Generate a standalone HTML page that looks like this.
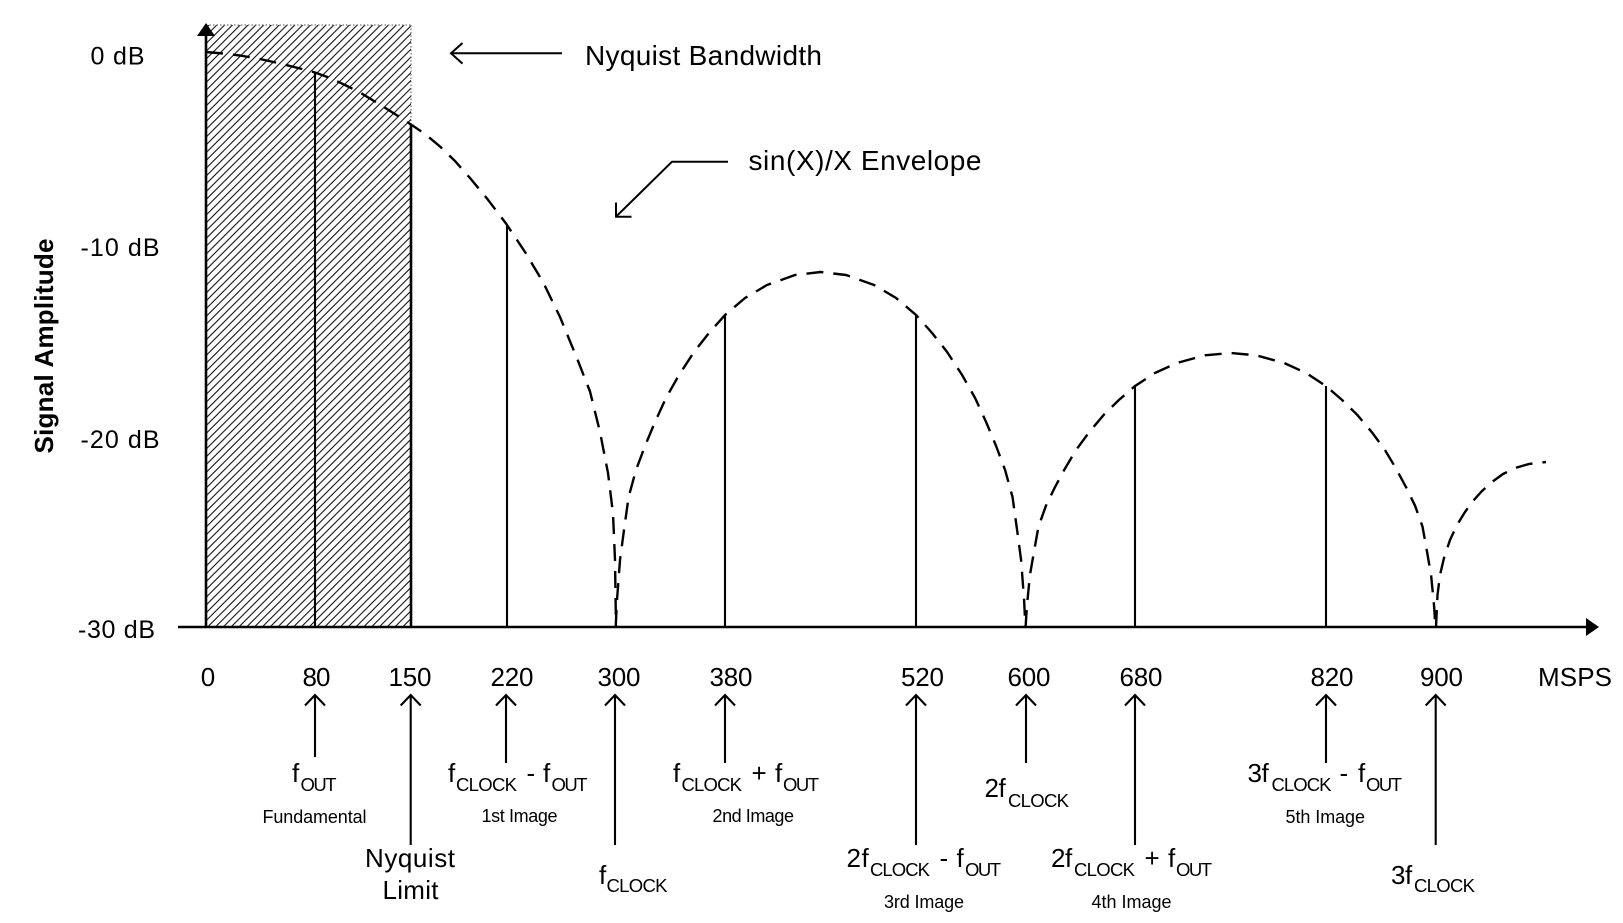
<!DOCTYPE html>
<html>
<head>
<meta charset="utf-8">
<style>
  html,body{margin:0;padding:0;background:#fff;}
  svg{display:block;}
  text{font-family:"Liberation Sans", Arial, sans-serif; fill:#000;}
</style>
</head>
<body>
<svg width="1623" height="923" viewBox="0 0 1623 923" xmlns="http://www.w3.org/2000/svg">
  <defs>
    <pattern id="hatch" width="7.8" height="7.8" patternUnits="userSpaceOnUse">
      <path d="M0,7.8 L7.8,0 M-1,1 L1,-1 M6.8,8.8 L8.8,6.8" stroke="#000" stroke-width="1.0"/>
    </pattern>
  </defs>
  <rect x="0" y="0" width="1623" height="923" fill="#fff"/>

  <!-- Nyquist hatched region -->
  <rect x="206" y="25" width="205" height="602" fill="url(#hatch)"/>
  <line x1="206" y1="25" x2="411" y2="25" stroke="#555" stroke-width="1" stroke-dasharray="1.5 2"/>
  <line x1="411" y1="25" x2="411" y2="125" stroke="#555" stroke-width="1" stroke-dasharray="1.5 2"/>

  <!-- axes -->
  <line x1="206" y1="627" x2="206" y2="33" stroke="#000" stroke-width="2.6"/>
  <polygon points="206,23 197,36 215,36" fill="#000"/>
  <line x1="178" y1="627" x2="1588" y2="627" stroke="#000" stroke-width="2.6"/>
  <polygon points="1599,627 1586,618 1586,636" fill="#000"/>

  <!-- signal lines -->
  <g stroke="#000" stroke-width="2.1">
    <line x1="315" y1="627" x2="315" y2="72.5"/>
    <line x1="411" y1="627" x2="411" y2="124.5" stroke-width="2.6"/>
    <line x1="507" y1="627" x2="507" y2="224.5"/>
    <line x1="725" y1="627" x2="725" y2="315"/>
    <line x1="916" y1="627" x2="916" y2="315"/>
    <line x1="1135" y1="627" x2="1135" y2="386"/>
    <line x1="1326" y1="627" x2="1326" y2="386"/>
  </g>

  <!-- sin(x)/x envelope -->
  <g fill="none" stroke="#000" stroke-width="2.4" stroke-dasharray="17 10" stroke-linejoin="round">
    <polyline points="206,52 223,53.5 240,55.5 260,59 280,63.5 300,68.5 315,72.5 330,78 345,85 360,92.5 383,106.5 398,116 411,124.5 425,134 440,146.5 455,161 470,178 487,198.5 506,223.5 525,252 543,282 560,317 576.7,357.6 590,391.5 600,432 608,473 613,513.6 615,560 616,627"/>
    <polyline points="615.7,627 617,600 620,560 624,530 628.6,497 636,470 645,446 655,422 666,398 679,375 694,352 709,333 725,315 745,298 767,285 795,275 820.5,272 846.1,275 874.1,285 896.1,298 916.1,315 932.1,333 947.1,352 962.1,375 975.1,398 986.1,422 996.1,446 1005.1,470 1012.5,497 1017.1,530 1021.1,560 1024.1,600 1025.4,627"/>
    <polyline points="1025.6,627 1026.9,606.2 1029.9,575.3 1033.9,552.1 1038.5,526.6 1045.9,505.8 1054.9,487.3 1064.9,468.7 1075.9,450.2 1088.9,432.5 1103.9,414.7 1118.9,400 1134.9,386.1 1154.9,373 1176.9,363 1204.9,355.3 1230.4,353 1256.1,355.3 1284.1,363 1306.1,373 1326.1,386.1 1342.1,400 1357.1,414.7 1372.1,432.5 1385.1,450.2 1396.1,468.7 1406.1,487.3 1415.1,505.8 1422.5,526.6 1427.1,552.1 1431.1,575.3 1434.1,606.2 1435.4,627"/>
    <polyline points="1436,627 1437.5,595 1440,575 1444,558 1450,540 1457,525 1465,512 1473,501 1482,491 1492,482 1503,474 1515,468 1529,464 1546,462"/>
  </g>

  <!-- top annotations -->
  <g fill="none" stroke="#000" stroke-width="2">
    <line x1="451" y1="53.3" x2="562" y2="53.3"/>
    <polyline points="462.5,43 451,53.3 462.5,63.6"/>
    <polyline points="728,161.7 672,161.7 616,216.7"/>
    <polyline points="616,202.5 616,216.7 631.5,216.7"/>
  </g>
  <text x="585" y="65" font-size="28" textLength="237" lengthAdjust="spacing">Nyquist Bandwidth</text>
  <text x="748.5" y="170" font-size="28" textLength="233" lengthAdjust="spacing">sin(X)/X Envelope</text>

  <!-- y axis labels -->
  <text x="90.5" y="64.5" font-size="25" textLength="54" lengthAdjust="spacing">0 dB</text>
  <text x="80.5" y="256" font-size="25" textLength="79" lengthAdjust="spacing">-10 dB</text>
  <text x="80.5" y="448" font-size="25" textLength="79" lengthAdjust="spacing">-20 dB</text>
  <text x="78" y="638" font-size="25" textLength="77" lengthAdjust="spacing">-30 dB</text>
  <text transform="translate(53,346) rotate(-90)" text-anchor="middle" font-size="26" font-weight="bold" textLength="215" lengthAdjust="spacing">Signal Amplitude</text>

  <!-- x tick labels -->
  <g font-size="26" text-anchor="middle">
    <text x="208" y="686">0</text>
    <text x="316.5" y="686" textLength="28" lengthAdjust="spacing">80</text>
    <text x="410" y="686" textLength="43" lengthAdjust="spacing">150</text>
    <text x="512" y="686" textLength="43" lengthAdjust="spacing">220</text>
    <text x="619" y="686" textLength="43" lengthAdjust="spacing">300</text>
    <text x="731" y="686" textLength="43" lengthAdjust="spacing">380</text>
    <text x="922.5" y="686" textLength="43" lengthAdjust="spacing">520</text>
    <text x="1029" y="686" textLength="43" lengthAdjust="spacing">600</text>
    <text x="1141" y="686" textLength="43" lengthAdjust="spacing">680</text>
    <text x="1332" y="686" textLength="43" lengthAdjust="spacing">820</text>
    <text x="1441.5" y="686" textLength="43" lengthAdjust="spacing">900</text>
  </g>
  <text x="1538" y="686" font-size="26" textLength="74" lengthAdjust="spacing">MSPS</text>

  <!-- bottom arrows -->
  <g fill="none" stroke="#000" stroke-width="2.1">
    <line x1="315" y1="695" x2="315" y2="757"/><polyline points="305,705.5 315,695 325,705.5"/>
    <line x1="410.7" y1="695" x2="410.7" y2="845"/><polyline points="400.7,705.5 410.7,695 420.7,705.5"/>
    <line x1="506" y1="695" x2="506" y2="763"/><polyline points="496,705.5 506,695 516,705.5"/>
    <line x1="615" y1="695" x2="615" y2="845"/><polyline points="605,705.5 615,695 625,705.5"/>
    <line x1="725" y1="695" x2="725" y2="763"/><polyline points="715,705.5 725,695 735,705.5"/>
    <line x1="916" y1="695" x2="916" y2="845"/><polyline points="906,705.5 916,695 926,705.5"/>
    <line x1="1026" y1="695" x2="1026" y2="763"/><polyline points="1016,705.5 1026,695 1036,705.5"/>
    <line x1="1135" y1="695" x2="1135" y2="845"/><polyline points="1125,705.5 1135,695 1145,705.5"/>
    <line x1="1326" y1="695" x2="1326" y2="763"/><polyline points="1316,705.5 1326,695 1336,705.5"/>
    <line x1="1435.7" y1="695" x2="1435.7" y2="845"/><polyline points="1425.7,705.5 1435.7,695 1445.7,705.5"/>
  </g>

  <!-- bottom labels -->
  <g font-size="26">
    <text x="292" y="782">f</text>
    <text x="300.5" y="791" font-size="18.5" textLength="36" lengthAdjust="spacing">OUT</text>
    <text x="262.5" y="823" font-size="18" textLength="104" lengthAdjust="spacing">Fundamental</text>

    <text x="365" y="867" textLength="90" lengthAdjust="spacing">Nyquist</text>
    <text x="382.5" y="899" textLength="56" lengthAdjust="spacing">Limit</text>

    <text x="448" y="782">f</text>
    <text x="456" y="791" font-size="18.5" textLength="61" lengthAdjust="spacing">CLOCK</text>
    <text x="526.5" y="782">-</text>
    <text x="543" y="782">f</text>
    <text x="551.5" y="791" font-size="18.5" textLength="36" lengthAdjust="spacing">OUT</text>
    <text x="481.5" y="822" font-size="18" textLength="76" lengthAdjust="spacing">1st Image</text>

    <text x="599" y="884">f</text>
    <text x="606.5" y="892" font-size="18.5" textLength="61" lengthAdjust="spacing">CLOCK</text>

    <text x="673" y="782">f</text>
    <text x="681.5" y="791" font-size="18.5" textLength="60.5" lengthAdjust="spacing">CLOCK</text>
    <text x="751.5" y="782">+</text>
    <text x="775" y="782">f</text>
    <text x="783" y="791" font-size="18.5" textLength="36" lengthAdjust="spacing">OUT</text>
    <text x="712.5" y="822" font-size="18" textLength="81.5" lengthAdjust="spacing">2nd Image</text>

    <text x="846.5" y="867">2</text>
    <text x="861.5" y="867">f</text>
    <text x="870" y="876" font-size="18.5" textLength="60" lengthAdjust="spacing">CLOCK</text>
    <text x="939.5" y="867">-</text>
    <text x="956.5" y="867">f</text>
    <text x="965" y="876" font-size="18.5" textLength="36" lengthAdjust="spacing">OUT</text>
    <text x="884" y="908" font-size="18" textLength="80" lengthAdjust="spacing">3rd Image</text>

    <text x="984.5" y="797">2</text>
    <text x="998.5" y="797">f</text>
    <text x="1008" y="807" font-size="18.5" textLength="61" lengthAdjust="spacing">CLOCK</text>

    <text x="1051" y="867">2</text>
    <text x="1065" y="867">f</text>
    <text x="1074" y="876" font-size="18.5" textLength="61" lengthAdjust="spacing">CLOCK</text>
    <text x="1144.5" y="867">+</text>
    <text x="1168" y="867">f</text>
    <text x="1176" y="876" font-size="18.5" textLength="36" lengthAdjust="spacing">OUT</text>
    <text x="1091.5" y="908" font-size="18" textLength="80" lengthAdjust="spacing">4th Image</text>

    <text x="1247.5" y="782">3</text>
    <text x="1261.5" y="782">f</text>
    <text x="1271.5" y="791" font-size="18.5" textLength="60" lengthAdjust="spacing">CLOCK</text>
    <text x="1339.5" y="782">-</text>
    <text x="1358" y="782">f</text>
    <text x="1366" y="791" font-size="18.5" textLength="36" lengthAdjust="spacing">OUT</text>
    <text x="1285.5" y="823" font-size="18" textLength="79.5" lengthAdjust="spacing">5th Image</text>

    <text x="1391" y="884">3</text>
    <text x="1405" y="884">f</text>
    <text x="1414" y="892" font-size="18.5" textLength="61" lengthAdjust="spacing">CLOCK</text>
  </g>
</svg>
</body>
</html>
